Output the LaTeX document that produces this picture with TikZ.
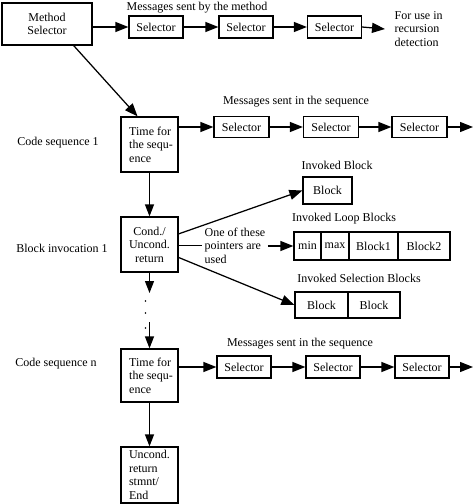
\documentclass[tikz,border=0pt]{standalone}
\usepackage{fontspec}
\setmainfont{Liberation Serif}
\usetikzlibrary{arrows.meta}
\begin{document}
\begin{tikzpicture}[x=1pt,y=-1pt,
  font=\fontsize{12}{13.5}\selectfont,
  line width=1.25pt,
  box/.style={draw, line width=1.25pt, inner sep=0pt, align=center},
  sel/.style={box, minimum width=54pt, minimum height=22pt},
  tall/.style={box, minimum width=57pt},
  arr/.style={-{Triangle[length=13pt,width=10pt]}},
  darr/.style={-{Triangle[length=12pt,width=9pt]}},
  lbl/.style={inner sep=0pt, align=left}]
\useasboundingbox (0,0) rectangle (474,504);

% Row 1
\node[box, minimum width=90pt, minimum height=42pt] (ms) at (47,24) {Method\\Selector};
\node[lbl] (t1title) at (197,8) {Messages sent by the method};
\node[sel] (s1a) at (156,27) {Selector};
\node[sel] (s1b) at (246,27) {Selector};
\node[sel] (s1c) at (334.5,27) {Selector};
\node[lbl, anchor=west, inner xsep=9pt] (rec) at (385,29) {For use in\\recursion\\detection};
\draw[arr] (ms.east |- s1a.west) -- (s1a.west);
\draw[arr] (s1a.east) -- (s1b.west);
\draw[arr] (s1b.east) -- (s1c.west);
\draw[arr] (s1c.east) -- (rec.west);

% Code sequence 1
\node[tall, minimum height=55pt, align=left] (t1) at (149.5,144.5) {\hspace*{3pt}Time for\\\hspace*{3pt}the sequ-\\\hspace*{3pt}ence};
\node[lbl] (cs1) at (58,143) {Code sequence 1};
\node[lbl] (m2title) at (296,102) {Messages sent in the sequence};
\node[sel, minimum width=55pt, minimum height=21pt] (s2a) at (241.5,127) {Selector};
\node[sel, minimum width=55pt, minimum height=21pt] (s2b) at (331,127) {Selector};
\node[sel, minimum width=55pt, minimum height=21pt] (s2c) at (419.5,127) {Selector};
\coordinate (e2) at (473,127);
\draw[arr] (ms.-39) -- (t1.113);
\draw[arr] (t1.east |- s2a.west) -- (s2a.west);
\draw[arr] (s2a.east) -- (s2b.west);
\draw[arr] (s2b.east) -- (s2c.west);
\draw[arr] (s2c.east) -- (e2);

% Block invocation 1
\node[tall, minimum height=55pt] (cond) at (149.5,244.5) {Cond./\\Uncond.\\return};
\node[lbl] (bi1) at (62,248) {Block invocation 1};
\draw[darr] (t1.south) -- (cond.north);

\node[lbl] (ibt) at (337,165) {Invoked Block};
\node[box, minimum width=49pt, minimum height=27pt] (blk) at (327.5,190.5) {Block};

\node[lbl] (ilt) at (344,219) {Invoked Loop Blocks};
\node[box, minimum width=27pt, minimum height=28pt] (lmin) at (307.5,246) {min};
\node[box, minimum width=28pt, minimum height=28pt] (lmax) at (335,246) {max};
\node[box, minimum width=49pt, minimum height=28pt] (lb1) at (373.5,246) {Block1};
\node[box, minimum width=52pt, minimum height=28pt] (lb2) at (424,246) {Block2};

\node[lbl] (ist) at (359,278) {Invoked Selection Blocks};
\node[box, minimum width=53pt, minimum height=26pt] (sb1) at (321.5,305) {Block};
\node[box, minimum width=52pt, minimum height=26pt] (sb2) at (374,305) {Block};

\node[lbl, anchor=west, inner xsep=2pt] (ptr) at (202,245.5) {One of these\\pointers are\\used};

\draw[arr] (cond.20) -- (blk.west);
\draw (cond.east |- ptr.west) -- (ptr.west);
\draw[arr] (ptr.east |- lmin.west) -- (lmin.west);
\draw[arr] (cond.-24) -- (sb1.west);

% dots
\coordinate (d1) at (149.5,293);
\coordinate (d2) at (149.5,322);
\draw[darr] (cond.south) -- (d1);
\fill (145.5,301) circle (0.8pt);
\fill (145.5,313) circle (0.8pt);
\fill (145.5,328) circle (0.8pt);

% Code sequence n
\node[tall, minimum height=53pt, align=left] (tn) at (149.5,375.5) {\hspace*{3pt}Time for\\\hspace*{3pt}the sequ-\\\hspace*{3pt}ence};
\node[lbl] (csn) at (56,364) {Code sequence n};
\node[lbl] (m3title) at (300,344) {Messages sent in the sequence};
\node[sel] (s3a) at (244,367) {Selector};
\node[sel] (s3b) at (333,367) {Selector};
\node[sel] (s3c) at (422,367) {Selector};
\coordinate (e3) at (473,367);
\draw[darr] (d2) -- (tn.north);
\draw[arr] (tn.east |- s3a.west) -- (s3a.west);
\draw[arr] (s3a.east) -- (s3b.west);
\draw[arr] (s3b.east) -- (s3c.west);
\draw[arr] (s3c.east) -- (e3);

% End
\node[tall, minimum height=56pt, align=left] (endb) at (149.5,475) {Uncond.\\return\\stmnt/\\End};
\draw[darr] (tn.south) -- (endb.north);
\end{tikzpicture}
\end{document}
